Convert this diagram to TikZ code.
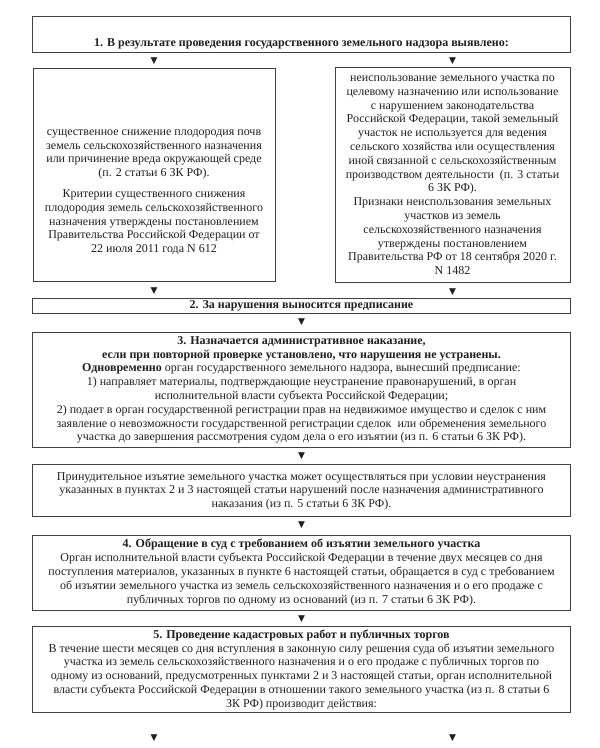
\documentclass[tikz,border=0pt]{standalone}
\usepackage{fontspec}
\setmainfont{Liberation Serif}
\newfontfamily\symfont{DejaVu Sans}
\usetikzlibrary{positioning}

\tikzset{
  box/.style={draw=black!75, line width=0.8pt, align=center, inner xsep=3pt, inner ysep=2pt,
    text=black!88, font=\fontsize{12}{13.8}\selectfont},
  wide/.style={box, minimum width=538pt},
  tri/.style={inner sep=0pt, text=black!88, font=\symfont\fontsize{9}{9}\selectfont}
}

\begin{document}
\begin{tikzpicture}[x=1pt,y=1pt]
      \useasboundingbox (0,0) rectangle (600,-748);

      \node[wide, text height=28pt, text depth=3pt, inner ysep=2.5pt] (1) at (301.5,-34)
        {\textbf{1. В результате проведения государственного земельного надзора выявлено:}};
      \node[box, minimum width=242pt, minimum height=213pt, below right=16pt and 0.5pt of 1.south west, anchor=north west] (L)
        {\mbox{}\\[26pt]
         существенное снижение плодородия почв\\
         земель сельскохозяйственного назначения\\
         или причинение вреда окружающей среде\\
         (п. 2 статьи 6 ЗК РФ).\\[7pt]
         Критерии существенного снижения\\
         плодородия земель сельскохозяйственного\\
         назначения утверждены постановлением\\
         Правительства Российской Федерации от\\
         22 июля 2011 года N 612};
      \node[box, minimum width=235pt, minimum height=215pt, below left=15pt and 0.5pt of 1.south east, anchor=north east] (R)
        {неиспользование земельного участка по\\
         целевому назначению или использование\\
         с нарушением законодательства\\
         Российской Федерации, такой земельный\\
         участок не используется для ведения\\
         сельского хозяйства или осуществления\\
         иной связанной с сельскохозяйственным\\
         производством деятельности~ (п. 3 статьи\\
         6 ЗК РФ).\\
         Признаки неиспользования земельных\\
         участков из земель\\
         сельскохозяйственного назначения\\
         утверждены постановлением\\
         Правительства РФ от 18 сентября 2020 г.\\
         N 1482};
      \node[wide, minimum height=15pt, inner ysep=1pt, below right=16pt and -0.5pt of L.south west, anchor=north west] (2)
        {\textbf{2. За нарушения выносится предписание}};
      \node[wide, minimum height=115pt, below=18pt of 2] (3)
        {\textbf{3. Назначается административное наказание,}\\
         \textbf{если при повторной проверке установлено, что нарушения не устранены.}\\
         \textbf{Одновременно} орган государственного земельного надзора, вынесший предписание:\\
         1) направляет материалы, подтверждающие неустранение правонарушений, в орган\\
         исполнительной власти субъекта Российской Федерации;\\
         2) подает в орган государственной регистрации прав на недвижимое имущество и сделок с ним\\
         заявление о невозможности государственной регистрации сделок~ или обременения земельного\\
         участка до завершения рассмотрения судом дела о его изъятии (из п. 6 статьи 6 ЗК РФ).};
      \node[wide, minimum height=52pt, below=16pt of 3] (P)
        {\mbox{}\\[-4pt]
         Принудительное изъятие земельного участка может осуществляться при условии неустранения\\
         указанных в пунктах 2 и 3 настоящей статьи нарушений после назначения административного\\
         наказания (из п. 5 статьи 6 ЗК РФ).};
      \node[wide, minimum height=75pt, below=18pt of P] (4)
        {\textbf{4. Обращение в суд с требованием об изъятии земельного участка}\\
         Орган исполнительной власти субъекта Российской Федерации в течение двух месяцев со дня\\
         поступления материалов, указанных в пункте 6 настоящей статьи, обращается в суд с требованием\\
         об изъятии земельного участка из земель сельскохозяйственного назначения и о его продаже с\\
         публичных торгов по одному из оснований (из п. 7 статьи 6 ЗК РФ).};
      \node[wide, minimum height=86pt, below=16pt of 4] (5)
        {\textbf{5. Проведение кадастровых работ и публичных торгов}\\
         В течение шести месяцев со дня вступления в законную силу решения суда об изъятии земельного\\
         участка из земель сельскохозяйственного назначения и о его продаже с публичных торгов по\\
         одному из оснований, предусмотренных пунктами 2 и 3 настоящей статьи, орган исполнительной\\
         власти субъекта Российской Федерации в отношении такого земельного участка (из п. 8 статьи 6\\
         ЗК РФ) производит действия:};

      \node[tri, above=4pt of L] (t1) {▼};
      \node[tri, above=3pt of R] (t2) {▼};
      \node[tri, below=5pt of L] (t3) {▼};
      \node[tri, below=5pt of R] (t4) {▼};
      \node[tri, below=5pt of 2] (t5) {▼};
      \node[tri, below=5pt of 3] (t6) {▼};
      \node[tri, below=5pt of P] (t7) {▼};
      \node[tri, below=5pt of 4] (t8) {▼};
      \node[tri, anchor=north, yshift=-21pt] (t9) at (5.south -| L) {▼};
      \node[tri, anchor=north, yshift=-21pt] (t10) at (5.south -| R) {▼};
    \end{tikzpicture}
\end{document}
